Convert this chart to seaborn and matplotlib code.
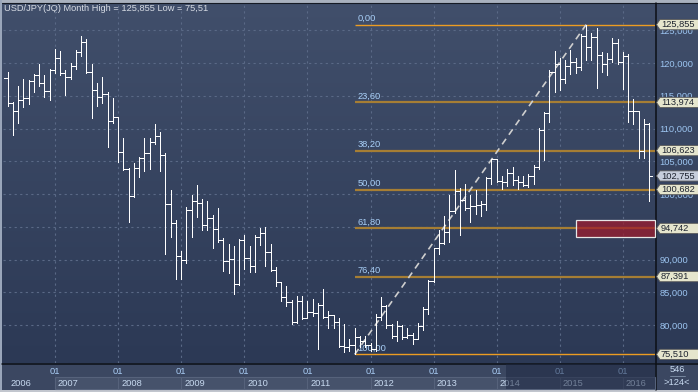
import numpy as np
import pandas as pd
import matplotlib
matplotlib.use("Agg")
import matplotlib.pyplot as plt
import matplotlib.transforms as mtransforms
from matplotlib.patches import Rectangle, Polygon
from matplotlib.ticker import FixedLocator, FuncFormatter
import seaborn as sns

# ---------------- data ----------------
start_month = "2006-04"
opens = [117.7, 113.9, 112.6, 114.4, 114.6, 117.3, 118.1, 116.9, 115.8,
         119.0, 120.7, 118.4, 117.8, 119.5, 121.7, 123.2, 118.6, 115.9, 114.8, 115.3, 111.2,
         111.7, 106.4, 103.8, 99.7, 104.0, 105.5, 106.2, 108.0, 108.8, 106.0, 98.5, 95.5,
         90.6, 89.9, 97.6, 98.9, 98.6, 95.3, 96.4, 94.7, 93.0, 89.7, 90.1, 86.2,
         93.0, 90.3, 89.0, 93.5, 94.0, 91.2, 88.4, 86.5, 84.2, 83.5, 80.4, 83.7,
         81.1, 82.0, 81.8, 83.1, 81.2, 81.5, 80.5, 76.8, 76.7, 77.0, 78.2, 77.6,
         76.9, 76.3, 81.2, 82.9, 80.0, 78.3, 79.8, 78.1, 78.4, 77.9, 79.8, 82.5,
         86.7, 91.7, 92.5, 94.2, 97.4, 100.5, 99.1, 97.9, 98.2, 98.3, 98.4, 102.4,
         105.3, 102.0, 101.8, 103.2, 102.2, 101.8, 101.3, 102.8, 104.1, 109.7, 112.3, 118.6,
         119.8, 117.5, 119.6, 120.1, 119.4, 124.1, 122.5, 123.9, 121.2, 119.9, 120.6, 123.1,
         120.2, 121.0, 112.7, 112.6, 106.5, 110.7]
highs = [118.7, 114.0, 116.5, 117.6, 117.4, 118.3, 119.9, 118.1, 119.1,
         122.2, 121.9, 119.0, 120.0, 122.0, 124.1, 123.6, 119.8, 117.0, 117.9, 115.5, 114.7,
         111.8, 108.6, 104.0, 104.7, 105.6, 108.6, 108.6, 110.7, 109.5, 106.3, 100.6, 96.1,
         91.3, 98.0, 99.8, 101.4, 99.2, 98.9, 96.8, 97.8, 93.3, 92.3, 92.1, 93.1,
         93.8, 92.1, 93.7, 94.8, 94.9, 92.3, 88.8, 86.6, 86.0, 83.8, 84.4, 84.5,
         83.7, 84.0, 83.3, 85.5, 82.2, 81.5, 81.0, 80.2, 77.9, 79.5, 78.3, 78.3,
         77.3, 81.7, 84.2, 83.0, 80.2, 80.6, 80.0, 79.6, 78.8, 80.3, 82.8, 86.8,
         91.8, 94.5, 96.7, 99.9, 103.7, 100.9, 101.5, 99.9, 100.6, 99.0, 102.6, 105.4,
         105.4, 102.8, 103.8, 104.1, 102.8, 102.8, 103.1, 104.5, 110.1, 112.5, 119.0, 121.85,
         120.8, 120.5, 122.0, 120.8, 124.5, 125.855, 124.6, 125.3, 121.7, 121.5, 123.8, 123.7,
         121.7, 121.4, 114.5, 112.7, 111.5, 110.9]
lows = [113.4, 109.0, 110.9, 113.3, 113.7, 115.5, 116.5, 114.8, 114.4,
        118.4, 118.1, 115.1, 117.6, 119.1, 121.1, 118.4, 111.6, 113.4, 113.9, 107.2, 110.8,
        104.9, 103.7, 95.8, 99.6, 102.6, 103.5, 103.8, 107.6, 103.5, 90.9, 93.5, 87.1,
        87.1, 89.4, 93.5, 96.5, 94.5, 94.5, 91.7, 92.6, 88.2, 88.0, 84.8, 86.1,
        88.5, 88.1, 88.1, 92.2, 89.0, 88.2, 85.9, 83.6, 82.9, 80.2, 80.3, 80.9,
        81.0, 81.3, 76.3, 81.1, 79.6, 79.6, 76.6, 75.9, 76.1, 75.51, 76.6, 76.6,
        76.0, 76.1, 80.8, 79.6, 78.0, 77.6, 77.9, 78.0, 77.1, 77.8, 79.2, 81.7,
        86.5, 90.9, 92.4, 92.6, 97.1, 93.8, 97.6, 95.8, 96.9, 96.6, 97.6, 101.6,
        101.8, 100.8, 101.2, 101.4, 100.8, 101.2, 101.1, 101.5, 103.8, 105.2, 111.0, 115.6,
        115.9, 116.9, 118.3, 118.5, 118.9, 120.4, 120.4, 116.2, 118.6, 118.1, 120.2, 119.9,
        115.97, 110.98, 110.7, 105.5, 105.5, 99.0]
closes = [113.9, 112.6, 114.4, 114.6, 117.3, 118.1, 116.9, 115.8, 119.0,
          120.7, 118.4, 117.8, 119.5, 121.7, 123.2, 118.6, 115.9, 114.8, 115.3, 111.2, 111.7,
          106.4, 103.8, 99.7, 104.0, 105.5, 106.2, 108.0, 108.8, 106.0, 98.5, 95.5, 90.6,
          89.9, 97.6, 98.9, 98.6, 95.3, 96.4, 94.7, 93.0, 89.7, 90.1, 86.2, 93.0,
          90.3, 89.0, 93.5, 94.0, 91.2, 88.4, 86.5, 84.2, 83.5, 80.4, 83.7, 81.1,
          82.0, 81.8, 83.1, 81.2, 81.5, 80.5, 76.8, 76.7, 77.0, 78.2, 77.6, 76.9,
          76.3, 81.2, 82.9, 80.0, 78.3, 79.8, 78.1, 78.4, 77.9, 79.8, 82.5, 86.7,
          91.7, 92.5, 94.2, 97.4, 100.5, 99.1, 97.9, 98.2, 98.3, 98.4, 102.4, 105.3,
          102.0, 101.8, 103.2, 102.2, 101.8, 101.3, 102.8, 104.1, 109.7, 112.3, 118.6, 119.8,
          117.5, 119.6, 120.1, 119.4, 124.1, 122.5, 123.9, 121.2, 119.9, 120.6, 123.1, 120.2,
          121.0, 112.7, 112.6, 106.5, 110.7, 102.755]

fib_levels = ["0,00", "23,60", "38,20", "50,00", "61,80", "76,40", "100,00"]
fib_values = [125.855, 113.974, 106.623, 100.682, 94.742, 87.391, 75.510]
fib_start = "2011-10"
fib_end = "2015-06"
last_price = 102.755
zone_start = "2015-04"
zone_low, zone_high = 93.45, 96.03
yticks = [80, 85, 90, 95, 100, 105, 110, 115, 120, 125]
years = list(range(2006, 2017))
title = "USD/JPY(JQ) Month High = 125,855 Low = 75,51"
corner_top, corner_bottom = "546", ">124<"

# ---------------- style ----------------
sns.set_style("dark")
plt.rcParams["font.family"] = ["Liberation Sans", "DejaVu Sans"]
FS = 6.7

W, H = 698, 392
fig = plt.figure(figsize=(W / 100, H / 100), dpi=100)
fig.patch.set_facecolor("#3B4761")

# background (pixel) axes for chrome
bg = fig.add_axes([0, 0, 1, 1], zorder=0)
bg.set_xlim(0, W)
bg.set_ylim(H, 0)
bg.axis("off")
grad = np.linspace(0, 1, 256)[:, None]
top_c = np.array([0x41, 0x4F, 0x6B]) / 255
bot_c = np.array([0x2C, 0x39, 0x55]) / 255
img = top_c[None, None, :] * (1 - grad[:, :, None]) + bot_c[None, None, :] * grad[:, :, None]
bg.imshow(img, extent=[0, W, 363, 0], aspect="auto", zorder=0)
bg.add_patch(Rectangle((0, 363), W, H - 363, facecolor="#3B4761", edgecolor="none", zorder=0.5))
# frame
bg.add_patch(Rectangle((0, 0), W, 2.5, facecolor="#A9B1BE", edgecolor="none", zorder=5))
bg.add_patch(Rectangle((0, 0), 2.3, H, facecolor="#9AA6BA", edgecolor="none", zorder=5))
bg.add_patch(Rectangle((0, 389.5), W, 3, facecolor="#C2C6CE", edgecolor="none", zorder=5))
bg.plot([2.3, W], [3, 3], color="#151a24", lw=0.8, zorder=5)
bg.plot([2.3, W], [363.5, 363.5], color="#0c0f16", lw=1.1, zorder=5)
bg.plot([655.5, 655.5], [3, 389.5], color="#0c0f16", lw=1.1, zorder=5)
bg.text(4, 8.5, title, color="#D6DBE4", fontsize=FS, va="center", ha="left", zorder=6)
bg.text(677, 369, corner_top, color="#C8DAF0", fontsize=FS, va="center", ha="center", zorder=6)
bg.plot([670, 685], [375.5, 375.5], color="#8090A8", lw=0.6, zorder=6)
bg.text(677, 382.5, corner_bottom, color="#C8DAF0", fontsize=FS, va="center", ha="center", zorder=6)

# main axes
pl, pr, pt, pb = 3, 655, 3, 363
ax = fig.add_axes([pl / W, 1 - pb / H, (pr - pl) / W, (pb - pt) / H], zorder=2)
ax.set_facecolor("none")
for s in ax.spines.values():
    s.set_visible(False)

n = len(opens)
idx = np.arange(n)
months = pd.period_range(start_month, periods=n, freq="M")
def midx(s):
    return (pd.Period(s, "M") - pd.Period(start_month, "M")).n

XL = (-0.875, 123.09)
ax.set_xlim(*XL)
ax.set_ylim(74.20, 129.16)

# grid
jan_idx = [midx(f"{y}-01") for y in years if XL[0] <= midx(f"{y}-01") <= XL[1]]
ax.vlines(jan_idx, 74.2, 129.16, colors="#5A6986", lw=0.8, linestyles=(0, (2, 3)), zorder=1)
ax.hlines(yticks, XL[0], XL[1], colors="#5A6986", lw=0.8, linestyles=(0, (2, 3)), zorder=1)

# fib lines
f0 = midx(fib_start)
f1 = midx(fib_end)
for lab, v in zip(fib_levels, fib_values):
    main = lab in ("0,00", "100,00")
    ax.hlines(v, f0, XL[1], colors="#EC9C22" if main else "#A67E34",
              lw=1.0 if main else 1.6, zorder=2)
    ax.annotate(lab, (f0, v), xytext=(2, 1.2), textcoords="offset points",
                color="#A9D0F8", fontsize=FS, ha="left", va="bottom", zorder=3)

# zone rectangle
z0 = midx(zone_start)
ax.add_patch(Rectangle((z0, zone_low), XL[1] - z0, zone_high - zone_low,
                       facecolor=(0.62, 0.10, 0.17, 0.72), edgecolor="#E6E6E6",
                       lw=0.9, zorder=2.6, clip_on=False))

# dashed trend line
trend = pd.DataFrame({"x": [f0, f1], "y": [fib_values[-1], fib_values[0]]})
sns.lineplot(data=trend, x="x", y="y", ax=ax, color="#CFCFCF", lw=1.2,
             linestyle=(0, (4, 3)), zorder=3, legend=False)

# OHLC bars
bw = 0.6
ax.vlines(idx, lows, highs, colors="white", lw=0.72, zorder=4, antialiased=False)
ax.hlines(opens, idx - bw, idx, colors="white", lw=0.72, zorder=4, antialiased=False)
ax.hlines(closes, idx, idx + bw, colors="white", lw=0.72, zorder=4, antialiased=False)

# y axis on right
ax.yaxis.tick_right()
ax.yaxis.set_major_locator(FixedLocator(yticks))
ax.yaxis.set_major_formatter(FuncFormatter(lambda v, p: f"{v:.3f}".replace(".", ",")))
ax.tick_params(axis="y", length=0, pad=3, labelcolor="#9CC4F0", labelsize=FS)
ax.set_xticks([])
ax.set_xlabel("")
ax.set_ylabel("")
ax.grid(False)

# price labels on right
ytr = ax.get_yaxis_transform()
px = 1.0 / (pr - pl)
hh = 0.78
labels = list(fib_values) + [last_price]
for v in labels:
    fc = "#C6CEDC" if v == last_price else "#E5E5CD"
    poly = Polygon([(1 + 1.5 * px, v), (1 + 5 * px, v + hh), (1 + 44 * px, v + hh),
                    (1 + 44 * px, v - hh), (1 + 5 * px, v - hh)], closed=True,
                   transform=ytr, facecolor=fc, edgecolor="#5A5A5A", lw=0.6,
                   clip_on=False, zorder=6)
    ax.add_patch(poly)
    ax.text(1 + 6 * px, v, f"{v:.3f}".replace(".", ","), transform=ytr, color="#1E2430",
            fontsize=FS, ha="left", va="center", clip_on=False, zorder=7)

# bottom time axis
xtr = ax.get_xaxis_transform()
hpx = 1.0 / (pb - pt)
def yfr(p):
    return (pb - p) * hpx
for y in years:
    j = midx(f"{y}-01")
    jn = midx(f"{y + 1}-01")
    if j >= XL[0]:
        ax.add_patch(Rectangle((j, yfr(389)), min(jn, XL[1]) - j, yfr(376.5) - yfr(389),
                               transform=xtr, facecolor="#46526B", edgecolor="#56627B",
                               lw=0.8, clip_on=False, zorder=5))
        ax.text(j, yfr(372), "01", transform=xtr, color="#A9CCF4", fontsize=FS,
                ha="center", va="center", clip_on=False, zorder=6)
        ax.annotate(str(y), (j, yfr(383)), xycoords=xtr, xytext=(3, 0),
                    textcoords="offset pixels", color="#C8DAF0", fontsize=FS,
                    ha="left", va="center", annotation_clip=False, zorder=6)
    else:
        ax.annotate(str(y), (XL[0], yfr(383)), xycoords=xtr, xytext=(8, 0),
                    textcoords="offset pixels", color="#C8DAF0", fontsize=FS,
                    ha="left", va="center", annotation_clip=False, zorder=6)

# scroll overlay on the recent part of the time axis
ov0 = 94.75
ax.add_patch(Rectangle((ov0, yfr(389)), XL[1] - ov0, yfr(363.5) - yfr(389), transform=xtr,
                       facecolor=(0.11, 0.15, 0.25, 0.5), edgecolor="none",
                       clip_on=False, zorder=8))

fig.savefig("out.png", dpi=100, facecolor=fig.get_facecolor())
